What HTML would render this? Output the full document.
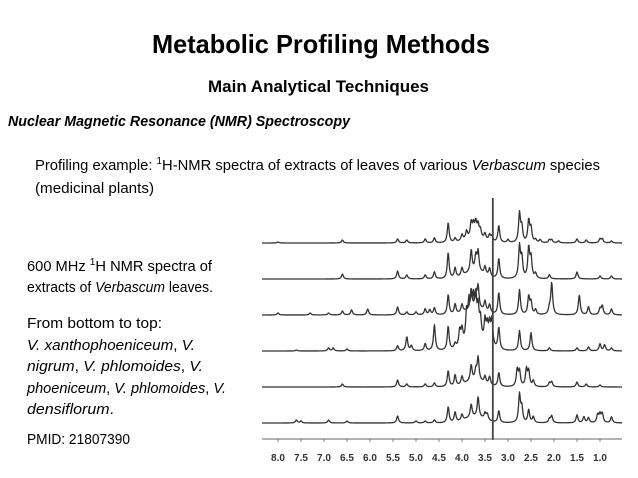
<!DOCTYPE html>
<html><head><meta charset="utf-8"><style>
html,body{margin:0;padding:0;background:#fff;}
svg{display:block;font-family:"Liberation Sans",sans-serif;}
</style></head><body>
<svg id="s" width="638" height="478" viewBox="0 0 638 478" xmlns="http://www.w3.org/2000/svg">
<text x="152" y="53" font-size="26" font-weight="bold" textLength="338" lengthAdjust="spacingAndGlyphs">Metabolic Profiling Methods</text>
<text x="208" y="92" font-size="17" font-weight="bold" textLength="221" lengthAdjust="spacingAndGlyphs">Main Analytical Techniques</text>
<text x="8" y="126" font-size="15" font-weight="bold" font-style="italic" textLength="342" lengthAdjust="spacingAndGlyphs">Nuclear Magnetic Resonance (NMR) Spectroscopy</text>
<text x="35" y="170" font-size="15" textLength="565" lengthAdjust="spacingAndGlyphs">Profiling example: <tspan font-size="10" dy="-6">1</tspan><tspan dy="6">H-NMR spectra of extracts of leaves of various </tspan><tspan font-style="italic">Verbascum</tspan> species</text>
<text x="35" y="193" font-size="15" textLength="119" lengthAdjust="spacingAndGlyphs">(medicinal plants)</text>
<g font-size="14.5">
<text x="27" y="271" textLength="185" lengthAdjust="spacingAndGlyphs">600 MHz <tspan font-size="10" dy="-6">1</tspan><tspan dy="6">H NMR spectra of</tspan></text>
<text x="27" y="292" textLength="186" lengthAdjust="spacingAndGlyphs">extracts of <tspan font-style="italic">Verbascum</tspan> leaves.</text>
<text x="27" y="328" textLength="135" lengthAdjust="spacingAndGlyphs">From bottom to top:</text>
<text x="27" y="350" font-style="italic" textLength="168" lengthAdjust="spacingAndGlyphs">V. xanthophoeniceum<tspan font-style="normal">, </tspan>V.</text>
<text x="27" y="371" font-style="italic" textLength="176" lengthAdjust="spacingAndGlyphs">nigrum<tspan font-style="normal">, </tspan>V. phlomoides<tspan font-style="normal">, </tspan>V.</text>
<text x="27" y="393" font-style="italic" textLength="199" lengthAdjust="spacingAndGlyphs">phoeniceum<tspan font-style="normal">, </tspan>V. phlomoides<tspan font-style="normal">, </tspan>V.</text>
<text x="27" y="414" textLength="87" lengthAdjust="spacingAndGlyphs"><tspan font-style="italic">densiflorum</tspan>.</text>
<text x="27" y="444" textLength="103" lengthAdjust="spacingAndGlyphs">PMID: 21807390</text>
</g>
<g id="chart"></g>
</svg>
<script>
const ticks = ["8.0","7.5","7.0","6.5","6.0","5.5","5.0","4.5","4.0","3.5","3.0","2.5","2.0","1.5","1.0"];
const spectrumNames = ["V. densiflorum","V. phlomoides","V. phoeniceum","V. phlomoides","V. nigrum","V. xanthophoeniceum"];
const humps = [5,7,6,10,6,6];
const peaks0 = [[8.0,1],[6.6,3],[5.4,4],[5.2,3],[4.8,4],[4.6,5],[4.3,20],[4.15,4],[4.0,6],[3.9,8],[3.8,15],[3.75,12],[3.7,14],[3.65,12],[3.6,8],[3.5,6],[3.4,6],[3.35,5],[3.2,17],[3.0,3],[2.75,29],[2.7,15],[2.55,22],[2.5,14],[2.4,3],[2.3,3],[2.1,3],[2.05,3],[1.9,2],[1.5,4],[1.3,3],[1.0,4],[0.95,4],[0.75,2]];
const peaks1 = [[6.6,5],[5.4,8],[5.2,4],[4.8,4],[4.6,7],[4.3,26],[4.15,10],[4.0,8],[3.8,22],[3.7,15],[3.65,20],[3.5,8],[3.4,8],[3.2,20],[2.75,32],[2.7,20],[2.55,30],[2.5,20],[2.4,5],[2.1,4],[1.5,7],[1.0,3],[0.75,3]];
const peaks2 = [[8.0,2],[7.3,2],[6.9,2],[6.6,4],[6.4,5],[6.05,6],[5.4,8],[5.2,3],[5.0,3],[4.8,6],[4.7,5],[4.6,7],[4.3,20],[4.15,10],[4.0,8],[3.8,20],[3.7,15],[3.65,22],[3.5,10],[3.4,8],[3.2,22],[2.75,25],[2.55,18],[2.5,12],[2.4,5],[2.1,6],[2.05,32],[1.45,20],[1.25,8],[1.0,6],[0.95,9],[0.75,6]];
const peaks3 = [[7.6,1],[6.9,3],[6.8,3],[6.5,2],[5.4,5],[5.2,14],[5.1,5],[4.8,7],[4.6,26],[4.3,24],[4.15,5],[4.05,16],[4.0,15],[3.9,28],[3.85,32],[3.8,36],[3.75,33],[3.7,36],[3.65,28],[3.6,20],[3.5,22],[3.45,18],[3.4,20],[3.35,27],[3.2,22],[2.75,20],[2.5,18],[2.1,3],[1.5,3],[1.25,4],[1.0,7],[0.9,6],[0.75,3]];
const peaks4 = [[6.6,3],[5.4,7],[5.2,3],[4.8,3],[4.6,4],[4.3,16],[4.15,11],[4.0,8],[3.8,16],[3.7,10],[3.65,23],[3.5,7],[3.4,8],[3.2,14],[2.8,17],[2.75,15],[2.6,17],[2.55,15],[2.45,6],[2.1,4],[2.05,5],[1.5,5],[1.3,3],[1.0,2]];
const peaks5 = [[7.6,3],[7.5,2],[6.9,3],[6.5,2],[5.4,7],[5.0,2],[4.8,2],[4.6,3],[4.3,16],[4.15,10],[4.0,6],[3.8,13],[3.65,20],[3.5,6],[3.45,6],[3.2,12],[2.75,28],[2.7,15],[2.55,13],[2.45,6],[2.1,4],[2.05,7],[1.5,8],[1.35,6],[1.25,5],[1.05,8],[1.0,8],[0.95,9],[0.75,6]];
const allPeaks = [peaks0,peaks1,peaks2,peaks3,peaks4,peaks5];

const NS="http://www.w3.org/2000/svg";
const g=document.getElementById('chart');
const xScale = ppm => 278 + (8.0 - ppm) * 46;
const x0 = 262, x1 = 622;
const baseY = i => 243 + i * 36;
function mk(tag, attrs){const e=document.createElementNS(NS,tag);for(const k in attrs)e.setAttribute(k,attrs[k]);g.appendChild(e);return e;}

allPeaks.forEach((pk,i)=>{
  const by = baseY(i);
  let d='';
  for(let x=x0;x<=x1;x+=0.5){
    const ppm = 8.0 - (x-278)/46;
    let h = humps[i]*Math.exp(-Math.pow((ppm-3.72)/0.3,2));
    pk.forEach(p=>{const dx=(ppm-p[0])*46; h+=p[1]/(1+dx*dx/1.2);});
    d += (d?'L':'M')+x.toFixed(1)+','+(by-h).toFixed(2);
  }
  const path=mk('path',{d:d,fill:'none',stroke:'#333','stroke-width':'1.3','stroke-linejoin':'round'});
  
  
});
const vl=mk('line',{x1:xScale(3.33),x2:xScale(3.33),y1:198,y2:440,stroke:'#444','stroke-width':'1.8'});


const ax=mk('line',{x1:x0,x2:x1,y1:439,y2:439,stroke:'#666','stroke-width':'1'});


ticks.forEach(t=>{
  const x=xScale(parseFloat(t));
  const tk=mk('line',{x1:x,x2:x,y1:439,y2:442,stroke:'#666','stroke-width':'0.8'});
  
  
  const tx=mk('text',{x:x,y:461,'font-size':'10','text-anchor':'middle',fill:'#333','font-weight':'bold'});
  tx.textContent=t;
  
  
});
</script>
</body></html>
